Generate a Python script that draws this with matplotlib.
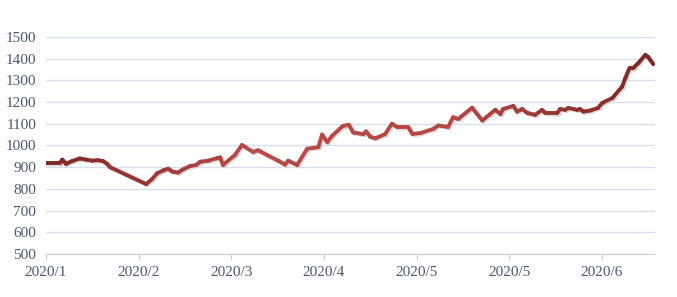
import numpy as np
import matplotlib.pyplot as plt
from matplotlib.collections import LineCollection
from matplotlib.colors import LinearSegmentedColormap

plt.rcParams.update({
    'font.family': 'Liberation Serif',
    'font.size': 11,
})

# trading-day position and index value
days = [0, 3.0, 3.5, 4.3, 5.6, 7.3, 8.6, 9.9, 11.2, 12.3, 13.2, 13.8, 21.6, 22.9,
        24.0, 25.3, 26.4, 27.2, 28.5, 29.6, 31.1, 32.4, 33.3, 35.0, 36.9, 37.6,
        38.2, 40.8, 42.3, 44.7, 45.8, 47.7, 50.1, 51.6, 52.3, 54.2, 56.4, 58.8,
        59.6, 60.7, 61.8, 64.1, 65.4, 66.3, 68.5, 69.1, 70.0, 71.1, 73.2, 74.7,
        75.8, 78.2, 79.1, 80.8, 83.6, 84.7, 86.8, 87.9, 89.0, 92.0, 94.2, 97.0,
        98.1, 98.7, 100.9, 101.7, 102.8, 103.9, 105.6, 107.1, 107.8, 110.4, 111.0,
        112.1, 112.8, 114.7, 115.3, 116.0, 117.5, 119.2, 120.1, 122.3, 124.4,
        125.1, 126.0, 126.8, 127.9, 129.4, 130.0, 131.1]
values = [920, 920, 935, 915, 928, 940, 935, 930, 932, 928, 915, 900, 822, 845,
          872, 885, 893, 880, 875, 890, 905, 910, 925, 930, 941, 945,
          910, 956, 1002, 970, 978, 956, 930, 912, 930, 910, 985, 992,
          1050, 1015, 1045, 1090, 1095, 1060, 1052, 1065, 1040, 1033, 1052, 1100,
          1085, 1085, 1053, 1057, 1076, 1092, 1085, 1130, 1122, 1174, 1115, 1164,
          1145, 1168, 1182, 1156, 1168, 1150, 1141, 1164, 1150, 1150, 1168,
          1164, 1173, 1164, 1168, 1156, 1161, 1173, 1196, 1219, 1271,
          1311, 1357, 1357, 1380, 1417, 1408, 1375]

tick_pos = [0, 20, 40, 60, 80, 100, 120]
tick_labels = ['2020/1', '2020/2', '2020/3', '2020/4', '2020/5', '2020/5', '2020/6']

fig = plt.figure(figsize=(6.77, 2.97), dpi=100)
ax = fig.add_axes([0.068, 0.145, 0.8995, 0.7305])

x = np.array(days)
y = np.array(values)

# gradient line: dark at both ends, brighter red in the middle
cmap = LinearSegmentedColormap.from_list('redline', ['#7a2624', '#b84a48', '#b44846', '#7a2624'])
pts = np.array([x, y]).T.reshape(-1, 1, 2)
segs = np.concatenate([pts[:-1], pts[1:]], axis=1)
# soft shadow
shadow = LineCollection(segs + np.array([0.3, -4]), colors='#d8c8c8', linewidths=3.4,
                        capstyle='round', joinstyle='round', alpha=0.6, zorder=2)
ax.add_collection(shadow)
lc = LineCollection(segs, cmap=cmap, linewidths=2.8, capstyle='round',
                    joinstyle='round', zorder=3)
lc.set_array((x[:-1] + x[1:]) / 2)
lc.set_clim(0, 131.5)
ax.add_collection(lc)

ax.set_xlim(0, 131.5)
ax.set_ylim(500, 1500)
ax.set_yticks(range(500, 1501, 100))
ax.set_xticks(tick_pos)
ax.set_xticklabels(tick_labels)

ax.grid(axis='y', color='#d6dfeb', linewidth=1.0)
ax.set_axisbelow(True)
for side in ['top', 'right', 'left']:
    ax.spines[side].set_visible(False)
ax.spines['bottom'].set_color('#c9d2de')
ax.tick_params(axis='y', length=0, pad=7, labelcolor='#4b5870')
ax.tick_params(axis='x', length=4, color='#c9d2de', pad=5, labelcolor='#4b5870')

plt.savefig('out.png', dpi=100)
plt.close()
